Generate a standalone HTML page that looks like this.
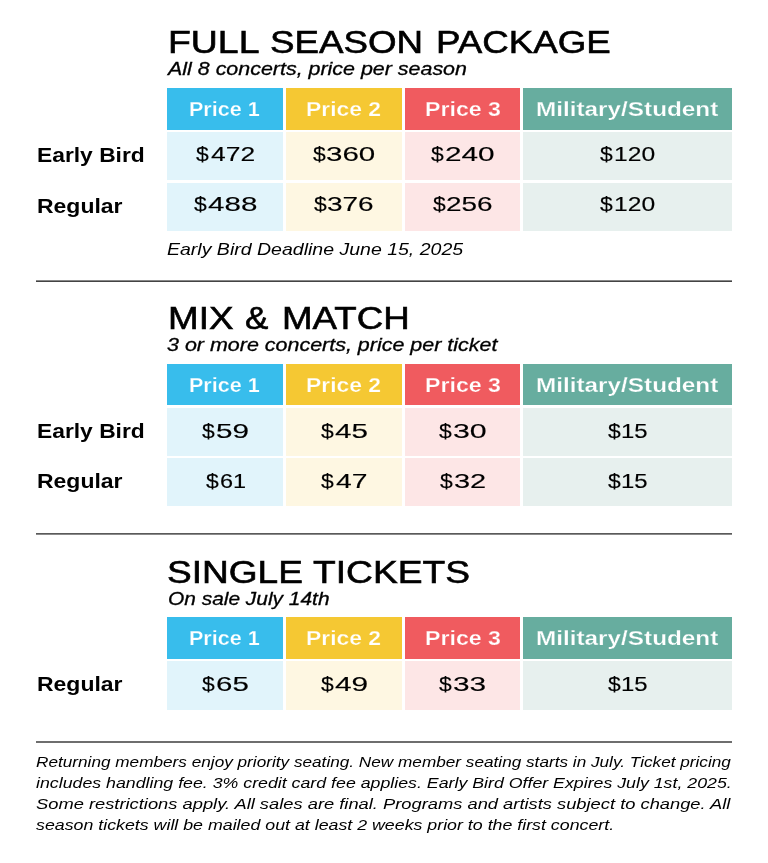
<!DOCTYPE html><html><head><meta charset="utf-8"><style>
html,body{margin:0;padding:0;background:#fff;width:768px;height:863px;overflow:hidden}
body{position:relative;font-family:"Liberation Sans", sans-serif}
.b{position:absolute}.t{position:absolute;line-height:1;white-space:nowrap;transform-origin:0 0;will-change:transform}
</style></head><body>
<div class="b" style="left:167px;top:88px;width:116px;height:42px;background:#38bdec"></div>
<div class="b" style="left:167px;top:132px;width:116px;height:48px;background:#e1f4fb"></div>
<div class="b" style="left:167px;top:183px;width:116px;height:48px;background:#e1f4fb"></div>
<div class="b" style="left:286px;top:88px;width:116px;height:42px;background:#f5c833"></div>
<div class="b" style="left:286px;top:132px;width:116px;height:48px;background:#fef7e2"></div>
<div class="b" style="left:286px;top:183px;width:116px;height:48px;background:#fef7e2"></div>
<div class="b" style="left:405px;top:88px;width:115px;height:42px;background:#f05b5f"></div>
<div class="b" style="left:405px;top:132px;width:115px;height:48px;background:#fde6e6"></div>
<div class="b" style="left:405px;top:183px;width:115px;height:48px;background:#fde6e6"></div>
<div class="b" style="left:523px;top:88px;width:209px;height:42px;background:#67ad9f"></div>
<div class="b" style="left:523px;top:132px;width:209px;height:48px;background:#e7f0ee"></div>
<div class="b" style="left:523px;top:183px;width:209px;height:48px;background:#e7f0ee"></div>
<div class="b" style="left:167px;top:364px;width:116px;height:41px;background:#38bdec"></div>
<div class="b" style="left:167px;top:408px;width:116px;height:48px;background:#e1f4fb"></div>
<div class="b" style="left:167px;top:458px;width:116px;height:48px;background:#e1f4fb"></div>
<div class="b" style="left:286px;top:364px;width:116px;height:41px;background:#f5c833"></div>
<div class="b" style="left:286px;top:408px;width:116px;height:48px;background:#fef7e2"></div>
<div class="b" style="left:286px;top:458px;width:116px;height:48px;background:#fef7e2"></div>
<div class="b" style="left:405px;top:364px;width:115px;height:41px;background:#f05b5f"></div>
<div class="b" style="left:405px;top:408px;width:115px;height:48px;background:#fde6e6"></div>
<div class="b" style="left:405px;top:458px;width:115px;height:48px;background:#fde6e6"></div>
<div class="b" style="left:523px;top:364px;width:209px;height:41px;background:#67ad9f"></div>
<div class="b" style="left:523px;top:408px;width:209px;height:48px;background:#e7f0ee"></div>
<div class="b" style="left:523px;top:458px;width:209px;height:48px;background:#e7f0ee"></div>
<div class="b" style="left:167px;top:617px;width:116px;height:42px;background:#38bdec"></div>
<div class="b" style="left:167px;top:661px;width:116px;height:49px;background:#e1f4fb"></div>
<div class="b" style="left:286px;top:617px;width:116px;height:42px;background:#f5c833"></div>
<div class="b" style="left:286px;top:661px;width:116px;height:49px;background:#fef7e2"></div>
<div class="b" style="left:405px;top:617px;width:115px;height:42px;background:#f05b5f"></div>
<div class="b" style="left:405px;top:661px;width:115px;height:49px;background:#fde6e6"></div>
<div class="b" style="left:523px;top:617px;width:209px;height:42px;background:#67ad9f"></div>
<div class="b" style="left:523px;top:661px;width:209px;height:49px;background:#e7f0ee"></div>
<div class="b" style="left:36px;top:280px;width:696px;height:1px;background:#888888"></div>
<div class="b" style="left:36px;top:281px;width:696px;height:1px;background:#444444"></div>
<div class="b" style="left:36px;top:533px;width:696px;height:1px;background:#5a5a5a"></div>
<div class="b" style="left:36px;top:534px;width:696px;height:1px;background:#8a8a8a"></div>
<div class="b" style="left:36px;top:741px;width:696px;height:1px;background:#6e6e6e"></div>
<div class="b" style="left:36px;top:742px;width:696px;height:1px;background:#6e6e6e"></div>
<div class="t" style="left:168.00px;top:26.95px;font-size:31.4px;font-weight:400;font-style:normal;-webkit-text-stroke:0.6px currentColor;color:#000000;transform:scaleX(1.1912)">FULL</div>
<div class="t" style="left:270.06px;top:26.95px;font-size:31.4px;font-weight:400;font-style:normal;-webkit-text-stroke:0.6px currentColor;color:#000000;transform:scaleX(1.1698)">SEASON</div>
<div class="t" style="left:436.45px;top:26.95px;font-size:31.4px;font-weight:400;font-style:normal;-webkit-text-stroke:0.6px currentColor;color:#000000;transform:scaleX(1.1690)">PACKAGE</div>
<div class="t" style="left:168.40px;top:60.17px;font-size:18px;font-weight:400;font-style:italic;-webkit-text-stroke:0.3px currentColor;color:#000000;transform:scaleX(1.1905)">All 8 concerts, price per season</div>
<div class="t" style="left:189.46px;top:98.00px;font-size:21.1px;font-weight:700;font-style:normal;-webkit-text-stroke:0.25px #38bdec;color:#ffffff;transform:scaleX(1.0216)">Price 1</div>
<div class="t" style="left:306.26px;top:98.00px;font-size:21.1px;font-weight:700;font-style:normal;-webkit-text-stroke:0.25px #f5c833;color:#ffffff;transform:scaleX(1.0853)">Price 2</div>
<div class="t" style="left:424.53px;top:98.00px;font-size:21.1px;font-weight:700;font-style:normal;-webkit-text-stroke:0.25px #f05b5f;color:#ffffff;transform:scaleX(1.0985)">Price 3</div>
<div class="t" style="left:535.95px;top:98.00px;font-size:21.1px;font-weight:700;font-style:normal;-webkit-text-stroke:0.25px #67ad9f;color:#ffffff;transform:scaleX(1.1521)">Military/Student</div>
<div class="t" style="left:36.54px;top:144.00px;font-size:21.0px;font-weight:700;font-style:normal;color:#000000;transform:scaleX(1.0860)">Early Bird</div>
<div class="t" style="left:36.50px;top:194.60px;font-size:21.0px;font-weight:700;font-style:normal;color:#000000;transform:scaleX(1.0940)">Regular</div>
<div class="t" style="left:196.49px;top:145.12px;font-size:19.8px;font-weight:400;font-style:normal;-webkit-text-stroke:0.15px currentColor;color:#000000;transform:scaleX(1.1582)">$</div>
<div class="t" style="left:210.82px;top:145.12px;font-size:19.8px;font-weight:400;font-style:normal;-webkit-text-stroke:0.15px currentColor;color:#000000;transform:scaleX(1.3351)">472</div>
<div class="t" style="left:312.79px;top:145.12px;font-size:19.8px;font-weight:400;font-style:normal;-webkit-text-stroke:0.15px currentColor;color:#000000;transform:scaleX(1.1582)">$</div>
<div class="t" style="left:326.30px;top:145.12px;font-size:19.8px;font-weight:400;font-style:normal;-webkit-text-stroke:0.15px currentColor;color:#000000;transform:scaleX(1.4923)">360</div>
<div class="t" style="left:431.19px;top:145.12px;font-size:19.8px;font-weight:400;font-style:normal;-webkit-text-stroke:0.15px currentColor;color:#000000;transform:scaleX(1.1582)">$</div>
<div class="t" style="left:444.63px;top:145.12px;font-size:19.8px;font-weight:400;font-style:normal;-webkit-text-stroke:0.15px currentColor;color:#000000;transform:scaleX(1.5036)">240</div>
<div class="t" style="left:600.49px;top:145.12px;font-size:19.8px;font-weight:400;font-style:normal;-webkit-text-stroke:0.15px currentColor;color:#000000;transform:scaleX(1.1582)">$</div>
<div class="t" style="left:613.58px;top:145.12px;font-size:19.8px;font-weight:400;font-style:normal;-webkit-text-stroke:0.15px currentColor;color:#000000;transform:scaleX(1.2457)">120</div>
<div class="t" style="left:193.79px;top:195.47px;font-size:19.8px;font-weight:400;font-style:normal;-webkit-text-stroke:0.15px currentColor;color:#000000;transform:scaleX(1.1582)">$</div>
<div class="t" style="left:208.06px;top:195.47px;font-size:19.8px;font-weight:400;font-style:normal;-webkit-text-stroke:0.15px currentColor;color:#000000;transform:scaleX(1.4945)">488</div>
<div class="t" style="left:313.79px;top:195.47px;font-size:19.8px;font-weight:400;font-style:normal;-webkit-text-stroke:0.15px currentColor;color:#000000;transform:scaleX(1.1582)">$</div>
<div class="t" style="left:327.37px;top:195.47px;font-size:19.8px;font-weight:400;font-style:normal;-webkit-text-stroke:0.15px currentColor;color:#000000;transform:scaleX(1.4135)">376</div>
<div class="t" style="left:432.79px;top:195.47px;font-size:19.8px;font-weight:400;font-style:normal;-webkit-text-stroke:0.15px currentColor;color:#000000;transform:scaleX(1.1582)">$</div>
<div class="t" style="left:446.32px;top:195.47px;font-size:19.8px;font-weight:400;font-style:normal;-webkit-text-stroke:0.15px currentColor;color:#000000;transform:scaleX(1.4119)">256</div>
<div class="t" style="left:600.49px;top:195.47px;font-size:19.8px;font-weight:400;font-style:normal;-webkit-text-stroke:0.15px currentColor;color:#000000;transform:scaleX(1.1582)">$</div>
<div class="t" style="left:613.58px;top:195.47px;font-size:19.8px;font-weight:400;font-style:normal;-webkit-text-stroke:0.15px currentColor;color:#000000;transform:scaleX(1.2457)">120</div>
<div class="t" style="left:167.44px;top:240.56px;font-size:16.4px;font-weight:400;font-style:italic;color:#000000;transform:scaleX(1.1904)">Early Bird Deadline June 15, 2025</div>
<div class="t" style="left:168.04px;top:302.85px;font-size:31.4px;font-weight:400;font-style:normal;-webkit-text-stroke:0.6px currentColor;color:#000000;transform:scaleX(1.1731)">MIX</div>
<div class="t" style="left:245.09px;top:302.85px;font-size:31.4px;font-weight:400;font-style:normal;-webkit-text-stroke:0.6px currentColor;color:#000000;transform:scaleX(1.1142)">&amp;</div>
<div class="t" style="left:282.05px;top:302.85px;font-size:31.4px;font-weight:400;font-style:normal;-webkit-text-stroke:0.6px currentColor;color:#000000;transform:scaleX(1.1687)">MATCH</div>
<div class="t" style="left:167.27px;top:335.87px;font-size:18px;font-weight:400;font-style:italic;-webkit-text-stroke:0.3px currentColor;color:#000000;transform:scaleX(1.1924)">3 or more concerts, price per ticket</div>
<div class="t" style="left:189.46px;top:373.80px;font-size:21.1px;font-weight:700;font-style:normal;-webkit-text-stroke:0.25px #38bdec;color:#ffffff;transform:scaleX(1.0216)">Price 1</div>
<div class="t" style="left:306.26px;top:373.80px;font-size:21.1px;font-weight:700;font-style:normal;-webkit-text-stroke:0.25px #f5c833;color:#ffffff;transform:scaleX(1.0853)">Price 2</div>
<div class="t" style="left:424.53px;top:373.80px;font-size:21.1px;font-weight:700;font-style:normal;-webkit-text-stroke:0.25px #f05b5f;color:#ffffff;transform:scaleX(1.0985)">Price 3</div>
<div class="t" style="left:535.95px;top:373.80px;font-size:21.1px;font-weight:700;font-style:normal;-webkit-text-stroke:0.25px #67ad9f;color:#ffffff;transform:scaleX(1.1521)">Military/Student</div>
<div class="t" style="left:36.54px;top:420.10px;font-size:21.0px;font-weight:700;font-style:normal;color:#000000;transform:scaleX(1.0860)">Early Bird</div>
<div class="t" style="left:36.50px;top:470.40px;font-size:21.0px;font-weight:700;font-style:normal;color:#000000;transform:scaleX(1.0940)">Regular</div>
<div class="t" style="left:202.49px;top:421.92px;font-size:19.8px;font-weight:400;font-style:normal;-webkit-text-stroke:0.15px currentColor;color:#000000;transform:scaleX(1.1582)">$</div>
<div class="t" style="left:215.92px;top:421.92px;font-size:19.8px;font-weight:400;font-style:normal;-webkit-text-stroke:0.15px currentColor;color:#000000;transform:scaleX(1.4997)">59</div>
<div class="t" style="left:320.79px;top:421.92px;font-size:19.8px;font-weight:400;font-style:normal;-webkit-text-stroke:0.15px currentColor;color:#000000;transform:scaleX(1.1582)">$</div>
<div class="t" style="left:335.05px;top:421.92px;font-size:19.8px;font-weight:400;font-style:normal;-webkit-text-stroke:0.15px currentColor;color:#000000;transform:scaleX(1.4983)">45</div>
<div class="t" style="left:439.49px;top:421.92px;font-size:19.8px;font-weight:400;font-style:normal;-webkit-text-stroke:0.15px currentColor;color:#000000;transform:scaleX(1.1582)">$</div>
<div class="t" style="left:452.96px;top:421.92px;font-size:19.8px;font-weight:400;font-style:normal;-webkit-text-stroke:0.15px currentColor;color:#000000;transform:scaleX(1.5323)">30</div>
<div class="t" style="left:607.79px;top:421.92px;font-size:19.8px;font-weight:400;font-style:normal;-webkit-text-stroke:0.15px currentColor;color:#000000;transform:scaleX(1.1582)">$</div>
<div class="t" style="left:620.93px;top:421.92px;font-size:19.8px;font-weight:400;font-style:normal;-webkit-text-stroke:0.15px currentColor;color:#000000;transform:scaleX(1.2085)">15</div>
<div class="t" style="left:205.79px;top:472.32px;font-size:19.8px;font-weight:400;font-style:normal;-webkit-text-stroke:0.15px currentColor;color:#000000;transform:scaleX(1.1582)">$</div>
<div class="t" style="left:219.52px;top:472.32px;font-size:19.8px;font-weight:400;font-style:normal;-webkit-text-stroke:0.15px currentColor;color:#000000;transform:scaleX(1.1886)">61</div>
<div class="t" style="left:321.49px;top:472.32px;font-size:19.8px;font-weight:400;font-style:normal;-webkit-text-stroke:0.15px currentColor;color:#000000;transform:scaleX(1.1582)">$</div>
<div class="t" style="left:335.78px;top:472.32px;font-size:19.8px;font-weight:400;font-style:normal;-webkit-text-stroke:0.15px currentColor;color:#000000;transform:scaleX(1.4285)">47</div>
<div class="t" style="left:440.19px;top:472.32px;font-size:19.8px;font-weight:400;font-style:normal;-webkit-text-stroke:0.15px currentColor;color:#000000;transform:scaleX(1.1582)">$</div>
<div class="t" style="left:453.72px;top:472.32px;font-size:19.8px;font-weight:400;font-style:normal;-webkit-text-stroke:0.15px currentColor;color:#000000;transform:scaleX(1.4645)">32</div>
<div class="t" style="left:607.79px;top:472.32px;font-size:19.8px;font-weight:400;font-style:normal;-webkit-text-stroke:0.15px currentColor;color:#000000;transform:scaleX(1.1582)">$</div>
<div class="t" style="left:620.93px;top:472.32px;font-size:19.8px;font-weight:400;font-style:normal;-webkit-text-stroke:0.15px currentColor;color:#000000;transform:scaleX(1.2085)">15</div>
<div class="t" style="left:167.35px;top:556.75px;font-size:31.4px;font-weight:400;font-style:normal;-webkit-text-stroke:0.6px currentColor;color:#000000;transform:scaleX(1.1803)">SINGLE</div>
<div class="t" style="left:313.14px;top:556.75px;font-size:31.4px;font-weight:400;font-style:normal;-webkit-text-stroke:0.6px currentColor;color:#000000;transform:scaleX(1.1844)">TICKETS</div>
<div class="t" style="left:167.86px;top:589.57px;font-size:18px;font-weight:400;font-style:italic;-webkit-text-stroke:0.3px currentColor;color:#000000;transform:scaleX(1.1614)">On sale July 14th</div>
<div class="t" style="left:189.46px;top:627.20px;font-size:21.1px;font-weight:700;font-style:normal;-webkit-text-stroke:0.25px #38bdec;color:#ffffff;transform:scaleX(1.0216)">Price 1</div>
<div class="t" style="left:306.26px;top:627.20px;font-size:21.1px;font-weight:700;font-style:normal;-webkit-text-stroke:0.25px #f5c833;color:#ffffff;transform:scaleX(1.0853)">Price 2</div>
<div class="t" style="left:424.53px;top:627.20px;font-size:21.1px;font-weight:700;font-style:normal;-webkit-text-stroke:0.25px #f05b5f;color:#ffffff;transform:scaleX(1.0985)">Price 3</div>
<div class="t" style="left:535.95px;top:627.20px;font-size:21.1px;font-weight:700;font-style:normal;-webkit-text-stroke:0.25px #67ad9f;color:#ffffff;transform:scaleX(1.1521)">Military/Student</div>
<div class="t" style="left:36.50px;top:673.30px;font-size:21.0px;font-weight:700;font-style:normal;color:#000000;transform:scaleX(1.0940)">Regular</div>
<div class="t" style="left:202.49px;top:674.52px;font-size:19.8px;font-weight:400;font-style:normal;-webkit-text-stroke:0.15px currentColor;color:#000000;transform:scaleX(1.1582)">$</div>
<div class="t" style="left:215.92px;top:674.52px;font-size:19.8px;font-weight:400;font-style:normal;-webkit-text-stroke:0.15px currentColor;color:#000000;transform:scaleX(1.4905)">65</div>
<div class="t" style="left:320.79px;top:674.52px;font-size:19.8px;font-weight:400;font-style:normal;-webkit-text-stroke:0.15px currentColor;color:#000000;transform:scaleX(1.1582)">$</div>
<div class="t" style="left:335.05px;top:674.52px;font-size:19.8px;font-weight:400;font-style:normal;-webkit-text-stroke:0.15px currentColor;color:#000000;transform:scaleX(1.5079)">49</div>
<div class="t" style="left:439.49px;top:674.52px;font-size:19.8px;font-weight:400;font-style:normal;-webkit-text-stroke:0.15px currentColor;color:#000000;transform:scaleX(1.1582)">$</div>
<div class="t" style="left:452.98px;top:674.52px;font-size:19.8px;font-weight:400;font-style:normal;-webkit-text-stroke:0.15px currentColor;color:#000000;transform:scaleX(1.5058)">33</div>
<div class="t" style="left:607.79px;top:674.52px;font-size:19.8px;font-weight:400;font-style:normal;-webkit-text-stroke:0.15px currentColor;color:#000000;transform:scaleX(1.1582)">$</div>
<div class="t" style="left:620.93px;top:674.52px;font-size:19.8px;font-weight:400;font-style:normal;-webkit-text-stroke:0.15px currentColor;color:#000000;transform:scaleX(1.2085)">15</div>
<div class="t" style="left:36.04px;top:754.30px;font-size:15.5px;font-weight:400;font-style:italic;color:#000000;transform:scaleX(1.1088)">Returning members enjoy priority seating. New member seating starts in July. Ticket pricing</div>
<div class="t" style="left:36.34px;top:775.20px;font-size:15.5px;font-weight:400;font-style:italic;color:#000000;transform:scaleX(1.1454)">includes handling fee. 3% credit card fee applies. Early Bird Offer Expires July 1st, 2025.</div>
<div class="t" style="left:35.72px;top:795.70px;font-size:15.5px;font-weight:400;font-style:italic;color:#000000;transform:scaleX(1.1813)">Some restrictions apply. All sales are final. Programs and artists subject to change. All</div>
<div class="t" style="left:36.44px;top:816.60px;font-size:15.5px;font-weight:400;font-style:italic;color:#000000;transform:scaleX(1.1471)">season tickets will be mailed out at least 2 weeks prior to the first concert.</div>
</body></html>
